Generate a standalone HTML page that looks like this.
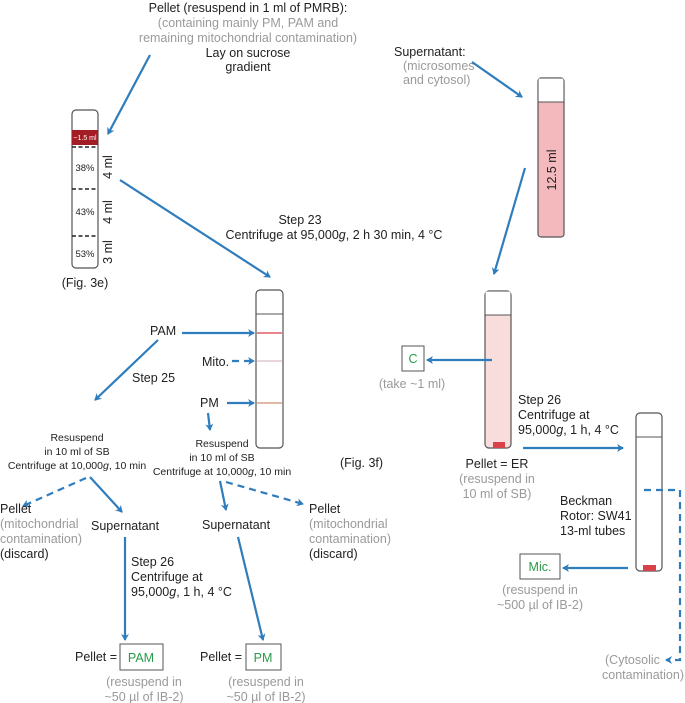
<!DOCTYPE html>
<html><head><meta charset="utf-8"><style>
body{margin:0;background:#fff}
svg{display:block;font-family:"Liberation Sans",sans-serif}
.t{font-size:12.5px;fill:#222}
.g{font-size:12.5px;fill:#9a9a9a}
.s{font-size:10.5px;fill:#222}
.gr{font-size:12.5px;fill:#2a9a4a}
.a{stroke:#2f7dbd;stroke-width:2.2;fill:none}
.d{stroke:#2f7dbd;stroke-width:2.2;fill:none;stroke-dasharray:7,5}
.tube{fill:#fff;stroke:#555;stroke-width:1.2}
</style></head><body>
<svg width="685" height="703" viewBox="0 0 685 703">
<defs><marker id="m" markerWidth="8" markerHeight="8" refX="6" refY="4" orient="auto" markerUnits="userSpaceOnUse"><path d="M0,0 L7,4 L0,8 L2,4 Z" fill="#2f7dbd"/></marker></defs>

<g text-anchor="middle">
<text class="t" x="248" y="12">Pellet (resuspend in 1 ml of PMRB):</text>
<text class="g" x="248" y="27">(containing mainly PM, PAM and</text>
<text class="g" x="248" y="42">remaining mitochondrial contamination)</text>
<text class="t" x="248" y="57">Lay on sucrose</text>
<text class="t" x="248" y="71">gradient</text>
</g>
<text class="t" x="394" y="56">Supernatant:</text>
<text class="g" x="403" y="70">(microsomes</text>
<text class="g" x="403" y="84">and cytosol)</text>

<line class="a" x1="150" y1="55" x2="108" y2="134" marker-end="url(#m)"/>
<line class="a" x1="472" y1="62" x2="522" y2="97" marker-end="url(#m)"/>

<!-- tube 1 -->
<rect class="tube" x="72" y="110" width="26" height="158" rx="4"/>
<rect x="72" y="130" width="26" height="15" fill="#a51d24"/>
<text x="85" y="140" font-size="7" fill="#fff" text-anchor="middle">~1.5 ml</text>
<g stroke="#222" stroke-width="1.5" stroke-dasharray="4,2.5"><line x1="72" y1="147" x2="98" y2="147"/><line x1="72" y1="189" x2="98" y2="189"/><line x1="72" y1="236" x2="98" y2="236"/></g>
<g text-anchor="middle" font-size="9.5" fill="#222"><text x="85" y="171">38%</text><text x="85" y="215">43%</text><text x="85" y="257">53%</text></g>
<g class="t" text-anchor="middle">
<text transform="translate(112,167) rotate(-90)" class="t">4 ml</text>
<text transform="translate(112,212) rotate(-90)" class="t">4 ml</text>
<text transform="translate(112,252) rotate(-90)" class="t">3 ml</text>
</g>
<text class="t" x="85" y="287" text-anchor="middle">(Fig. 3e)</text>

<line class="a" x1="120" y1="180" x2="270" y2="277" marker-end="url(#m)"/>
<text class="t" x="300" y="224" text-anchor="middle">Step 23</text>
<text class="t" x="334" y="239" text-anchor="middle">Centrifuge at 95,000<tspan font-style="italic">g</tspan>, 2 h 30 min, 4 °C</text>

<!-- tube top right -->
<rect x="538" y="78" width="26" height="159" rx="3" fill="#f4b9bd" stroke="#555" stroke-width="1.2"/>
<rect x="538.6" y="78.6" width="24.8" height="23" fill="#fff"/>
<line x1="538" y1="102" x2="564" y2="102" stroke="#555"/>
<text transform="translate(556,170) rotate(-90)" class="t" text-anchor="middle">12.5 ml</text>
<line class="a" x1="525" y1="168" x2="494" y2="274" marker-end="url(#m)"/>

<!-- tube 2 -->
<rect class="tube" x="256" y="290" width="27" height="158" rx="4"/>
<line x1="256" y1="314" x2="283" y2="314" stroke="#555"/>
<line x1="257" y1="333" x2="282" y2="333" stroke="#e8868a" stroke-width="2"/>
<line x1="257" y1="361" x2="282" y2="361" stroke="#ead6da" stroke-width="2"/>
<line x1="257" y1="403" x2="282" y2="403" stroke="#e2b9a4" stroke-width="2"/>
<text class="t" x="150" y="335">PAM</text>
<line class="a" x1="182" y1="333" x2="254" y2="333" marker-end="url(#m)"/>
<text class="t" x="202" y="366">Mito.</text>
<line class="d" x1="232" y1="361" x2="254" y2="361" marker-end="url(#m)"/>
<text class="t" x="200" y="407">PM</text>
<line class="a" x1="227" y1="403" x2="254" y2="403" marker-end="url(#m)"/>
<line class="a" x1="158" y1="340" x2="95" y2="400" marker-end="url(#m)"/>
<text class="t" x="132" y="382">Step 25</text>
<line class="a" x1="208" y1="413" x2="210" y2="430" marker-end="url(#m)"/>
<text class="t" x="340" y="467">(Fig. 3f)</text>

<g text-anchor="middle">
<text class="s" x="77" y="441">Resuspend</text>
<text class="s" x="77" y="455">in 10 ml of SB</text>
<text class="s" x="77" y="469">Centrifuge at 10,000<tspan font-style="italic">g</tspan>, 10 min</text>
<text class="s" x="222" y="447">Resuspend</text>
<text class="s" x="222" y="461">in 10 ml of SB</text>
<text class="s" x="222" y="475">Centrifuge at 10,000<tspan font-style="italic">g</tspan>, 10 min</text>
</g>
<line class="d" x1="86" y1="478" x2="23" y2="506" marker-end="url(#m)"/>
<line class="a" x1="90" y1="477" x2="122" y2="512" marker-end="url(#m)"/>
<line class="a" x1="220" y1="481" x2="226" y2="510" marker-end="url(#m)"/>
<line class="d" x1="226" y1="482" x2="303" y2="504" marker-end="url(#m)"/>

<text class="t" x="0" y="513">Pellet</text>
<text class="g" x="0" y="528">(mitochondrial</text>
<text class="g" x="0" y="543">contamination)</text>
<text class="t" x="0" y="558">(discard)</text>
<text class="t" x="91" y="530">Supernatant</text>
<text class="t" x="202" y="529">Supernatant</text>
<text class="t" x="309" y="513">Pellet</text>
<text class="g" x="309" y="528">(mitochondrial</text>
<text class="g" x="309" y="543">contamination)</text>
<text class="t" x="309" y="558">(discard)</text>

<text class="t" x="131" y="566">Step 26</text>
<text class="t" x="131" y="581">Centrifuge at</text>
<text class="t" x="131" y="596">95,000<tspan font-style="italic">g</tspan>, 1 h, 4 °C</text>
<line class="a" x1="125" y1="537" x2="125" y2="640" marker-end="url(#m)"/>
<line class="a" x1="238" y1="537" x2="263" y2="640" marker-end="url(#m)"/>

<text class="t" x="75" y="661">Pellet =</text>
<rect x="120" y="644" width="43" height="26" fill="#fff" stroke="#555"/>
<text class="gr" x="141" y="662" text-anchor="middle">PAM</text>
<text class="t" x="200" y="661">Pellet =</text>
<rect x="246" y="644" width="35" height="26" fill="#fff" stroke="#555"/>
<text class="gr" x="263" y="662" text-anchor="middle">PM</text>
<g text-anchor="middle">
<text class="g" x="144" y="686">(resuspend in</text>
<text class="g" x="144" y="701">~50 µl of IB-2)</text>
<text class="g" x="266" y="686">(resuspend in</text>
<text class="g" x="266" y="701">~50 µl of IB-2)</text>
</g>

<!-- ER tube -->
<rect x="485" y="291" width="26" height="157" rx="4" fill="#f9dcdc" stroke="#555" stroke-width="1.2"/>
<rect x="485.6" y="291.6" width="24.8" height="23" fill="#fff"/>
<line x1="485" y1="315" x2="511" y2="315" stroke="#555"/>
<rect x="493" y="442" width="12" height="6" fill="#d8414a"/>
<rect x="402" y="346" width="22" height="25" fill="#fff" stroke="#555"/>
<text class="gr" x="413" y="363" text-anchor="middle">C</text>
<line class="a" x1="492" y1="360" x2="427" y2="360" marker-end="url(#m)"/>
<text class="g" x="412" y="388" text-anchor="middle">(take ~1 ml)</text>
<text class="t" x="518" y="404">Step 26</text>
<text class="t" x="518" y="419">Centrifuge at</text>
<text class="t" x="518" y="434">95,000<tspan font-style="italic">g</tspan>, 1 h, 4 °C</text>
<line class="a" x1="523" y1="448" x2="623" y2="448" marker-end="url(#m)"/>
<g text-anchor="middle">
<text class="t" x="497" y="468">Pellet = ER</text>
<text class="g" x="497" y="483">(resuspend in</text>
<text class="g" x="497" y="498">10 ml of SB)</text>
</g>

<!-- right tube -->
<rect class="tube" x="636" y="413" width="26" height="158" rx="4"/>
<line x1="636" y1="437" x2="662" y2="437" stroke="#555"/>
<rect x="643" y="565" width="13" height="6" fill="#d8414a"/>
<text class="t" x="560" y="505">Beckman</text>
<text class="t" x="560" y="520">Rotor: SW41</text>
<text class="t" x="560" y="535">13-ml tubes</text>
<rect x="520" y="554" width="40" height="25" fill="#fff" stroke="#555"/>
<text class="gr" x="540" y="571" text-anchor="middle">Mic.</text>
<line class="a" x1="628" y1="568" x2="563" y2="568" marker-end="url(#m)"/>
<g text-anchor="middle">
<text class="g" x="540" y="594">(resuspend in</text>
<text class="g" x="540" y="609">~500 µl of IB-2)</text>
</g>
<polyline class="d" points="644,490 680,490 680,660 666,660" marker-end="url(#m)"/>
<text class="g" x="605" y="664">(Cytosolic</text>
<text class="g" x="602" y="679">contamination)</text>
</svg>
</body></html>
